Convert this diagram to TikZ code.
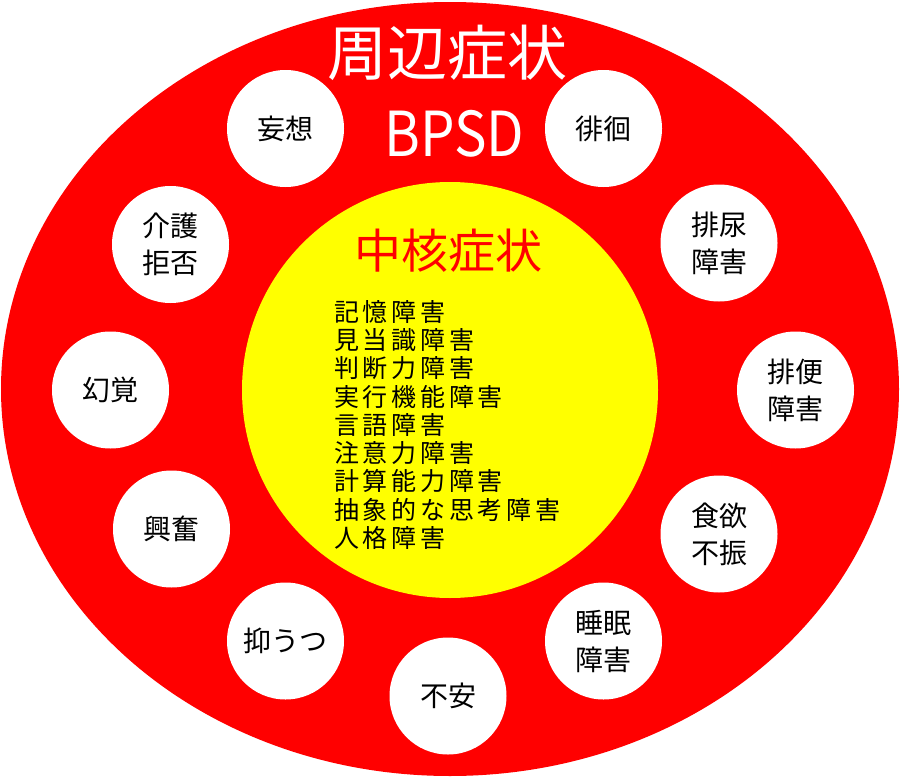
\documentclass[tikz,border=0pt]{standalone}
\usepackage{fontspec}
\setmainfont{Noto Sans CJK JP}
\newfontfamily\jplist[LetterSpace=15]{Noto Sans CJK JP}
\definecolor{bred}{HTML}{FF0000}
\definecolor{byel}{HTML}{FFFF00}
\tikzset{
  bubble/.style={circle, fill=white, minimum size=117pt, inner sep=0pt, align=center,
    font=\fontsize{28}{37}\selectfont, text=black},
}
\begin{document}
\begin{tikzpicture}[x=1pt,y=-1pt]
\useasboundingbox (0,0) rectangle (900,779);
\fill[bred] (450,389) ellipse [x radius=449, y radius=387];
\node[circle, fill=byel, minimum size=416pt, inner sep=0pt] (core) at (450,390) {};
\node[text=white, font=\fontsize{60}{60}\selectfont, inner sep=0pt] (title) at (447,53) {周辺症状};
\node[text=white, font=\fontsize{62}{62}\selectfont, inner sep=0pt] (bpsd) at (454.5,133.5) {\scalebox{0.88}[1]{BPSD}};
\node[text=bred, font=\fontsize{47}{47}\selectfont, inner sep=0pt] (coretitle) at (448,251) {中核症状};
\node[anchor=west, inner sep=0pt, align=left, font=\jplist\fontsize{25}{28.25}\selectfont] (list) at (334,425)
 {記憶障害\\見当識障害\\判断力障害\\実行機能障害\\言語障害\\注意力障害\\計算能力障害\\抽象的な思考障害\\人格障害};
\node[bubble] (b1) at (285.5,128.5) {妄想};
\node[bubble] (b2) at (603.5,128.5) {徘徊};
\node[bubble] (b3) at (719,243) {排尿\\障害};
\node[bubble] (b4) at (795.5,390) {排便\\障害};
\node[bubble] (b5) at (719,534) {食欲\\不振};
\node[bubble] (b6) at (603.5,641) {睡眠\\障害};
\node[bubble] (b7) at (448,696) {不安};
\node[bubble] (b8) at (285.5,641) {抑うつ};
\node[bubble] (b9) at (171.5,529) {興奮};
\node[bubble] (b10) at (110.5,390) {幻覚};
\node[bubble] (b11) at (170.5,244.5) {介護\\拒否};
\end{tikzpicture}
\end{document}
